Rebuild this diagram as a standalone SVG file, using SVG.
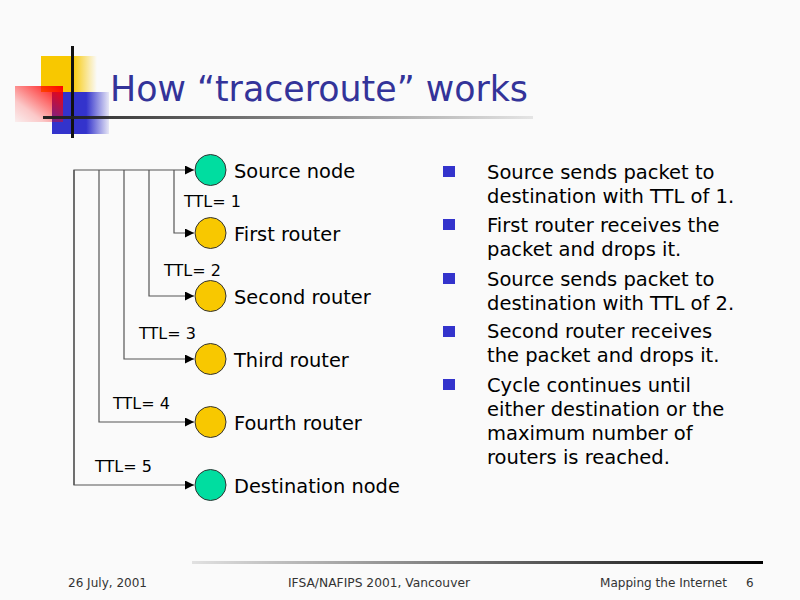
<svg xmlns="http://www.w3.org/2000/svg" width="800" height="600" viewBox="0 0 800 600">
<style>
  text { font-family: "DejaVu Sans", "Liberation Sans", sans-serif; fill: #000; }
  .title { font-size: 35px; fill: #333399; }
  .node { font-size: 19.4px; }
  .ttl { font-size: 16px; }
  .bul { font-size: 19.5px; }
  .foot { font-size: 12px; fill: #333; }
  .conn { fill: none; stroke: #555; stroke-width: 1.2; }
  .green { fill: #00DDA0; stroke: #333; stroke-width: 1; }
  .yellow { fill: #F8C800; stroke: #333; stroke-width: 1; }
  .sq { fill: #3333CC; }
</style>
<defs>
  <marker id="arr" viewBox="0 0 10 10" refX="10" refY="5" markerWidth="9" markerHeight="9" markerUnits="userSpaceOnUse" orient="auto">
    <path d="M0,0 L10,5 L0,10 z" fill="#000"/>
  </marker>
  <linearGradient id="gy" x1="0" y1="0" x2="1" y2="0">
    <stop offset="0" stop-color="#F8C800"/>
    <stop offset="0.55" stop-color="#F8C800"/>
    <stop offset="1" stop-color="#F8C800" stop-opacity="0"/>
  </linearGradient>
  <linearGradient id="gb" x1="0" y1="0" x2="1" y2="0">
    <stop offset="0" stop-color="#3333CC"/>
    <stop offset="0.6" stop-color="#3333CC"/>
    <stop offset="1" stop-color="#3333CC" stop-opacity="0.1"/>
  </linearGradient>
  <linearGradient id="gr" x1="1" y1="0" x2="0" y2="1">
    <stop offset="0" stop-color="#FF0000"/>
    <stop offset="0.7" stop-color="#FF0000" stop-opacity="0.2"/>
    <stop offset="1" stop-color="#FF0000" stop-opacity="0.05"/>
  </linearGradient>
  <linearGradient id="gl" x1="0" y1="0" x2="1" y2="0">
    <stop offset="0" stop-color="#222"/>
    <stop offset="1" stop-color="#222" stop-opacity="0.1"/>
  </linearGradient>
  <linearGradient id="gf" x1="0" y1="0" x2="1" y2="0">
    <stop offset="0" stop-color="#000" stop-opacity="0.1"/>
    <stop offset="1" stop-color="#000"/>
  </linearGradient>
</defs>
<rect width="800" height="600" fill="#FAFAFA"/>

<g id="logo">
  <rect x="41" y="56" width="56" height="36" fill="url(#gy)"/>
  <rect x="52" y="92" width="57" height="42" fill="url(#gb)"/>
  <rect x="15" y="86" width="48" height="36" fill="url(#gr)"/>
  <rect x="71" y="46" width="3" height="92" fill="#111"/>
  <rect x="43" y="116" width="490" height="3" fill="url(#gl)"/>
</g>

<text class="title" x="110" y="101" textLength="418" lengthAdjust="spacingAndGlyphs">How “traceroute” works</text>

<g id="connectors">
  <path class="conn" d="M74,485 V170 H194" marker-end="url(#arr)"/>
  <path class="conn" d="M174,170 V233 H194" marker-end="url(#arr)"/>
  <path class="conn" d="M149,170 V296 H194" marker-end="url(#arr)"/>
  <path class="conn" d="M124,170 V359 H194" marker-end="url(#arr)"/>
  <path class="conn" d="M99,170 V422 H194" marker-end="url(#arr)"/>
  <path class="conn" d="M74,170 V485 H194" marker-end="url(#arr)"/>
  <text class="ttl" x="184" y="207">TTL= 1</text>
  <text class="ttl" x="164" y="276">TTL= 2</text>
  <text class="ttl" x="139" y="339">TTL= 3</text>
  <text class="ttl" x="113" y="409">TTL= 4</text>
  <text class="ttl" x="95" y="472">TTL= 5</text>
</g>

<g id="source">
  <circle class="green" cx="210.5" cy="170" r="15.5"/>
  <text class="node" x="234" y="178">Source node</text>
</g>
<g id="first">
  <circle class="yellow" cx="210.5" cy="233" r="15.5"/>
  <text class="node" x="234" y="241">First router</text>
</g>
<g id="second">
  <circle class="yellow" cx="210.5" cy="296" r="15.5"/>
  <text class="node" x="234" y="304">Second router</text>
</g>
<g id="third">
  <circle class="yellow" cx="210.5" cy="359" r="15.5"/>
  <text class="node" x="234" y="367">Third router</text>
</g>
<g id="fourth">
  <circle class="yellow" cx="210.5" cy="422" r="15.5"/>
  <text class="node" x="234" y="430">Fourth router</text>
</g>
<g id="destination">
  <circle class="green" cx="210.5" cy="485" r="15.5"/>
  <text class="node" x="234" y="493">Destination node</text>
</g>

<g id="bullets">
  <rect class="sq" x="443" y="166" width="12" height="11"/>
  <rect class="sq" x="443" y="219" width="12" height="11"/>
  <rect class="sq" x="443" y="273" width="12" height="11"/>
  <rect class="sq" x="443" y="326" width="12" height="11"/>
  <rect class="sq" x="443" y="379" width="12" height="11"/>
  <text class="bul" x="487" y="179">Source sends packet to</text>
  <text class="bul" x="487" y="203">destination with TTL of 1.</text>
  <text class="bul" x="487" y="232">First router receives the</text>
  <text class="bul" x="487" y="256">packet and drops it.</text>
  <text class="bul" x="487" y="286">Source sends packet to</text>
  <text class="bul" x="487" y="310">destination with TTL of 2.</text>
  <text class="bul" x="487" y="338">Second router receives</text>
  <text class="bul" x="487" y="362">the packet and drops it.</text>
  <text class="bul" x="487" y="392">Cycle continues until</text>
  <text class="bul" x="487" y="416">either destination or the</text>
  <text class="bul" x="487" y="440">maximum number of</text>
  <text class="bul" x="487" y="464">routers is reached.</text>
</g>

<g id="footer">
  <rect x="192" y="561" width="571" height="3" fill="url(#gf)"/>
  <text class="foot" x="68" y="587" textLength="79" lengthAdjust="spacingAndGlyphs">26 July, 2001</text>
  <text class="foot" x="288" y="587" textLength="182" lengthAdjust="spacingAndGlyphs">IFSA/NAFIPS 2001, Vancouver</text>
  <text class="foot" x="600" y="587" textLength="127" lengthAdjust="spacingAndGlyphs">Mapping the Internet</text>
  <text class="foot" x="746" y="587">6</text>
</g>
</svg>
